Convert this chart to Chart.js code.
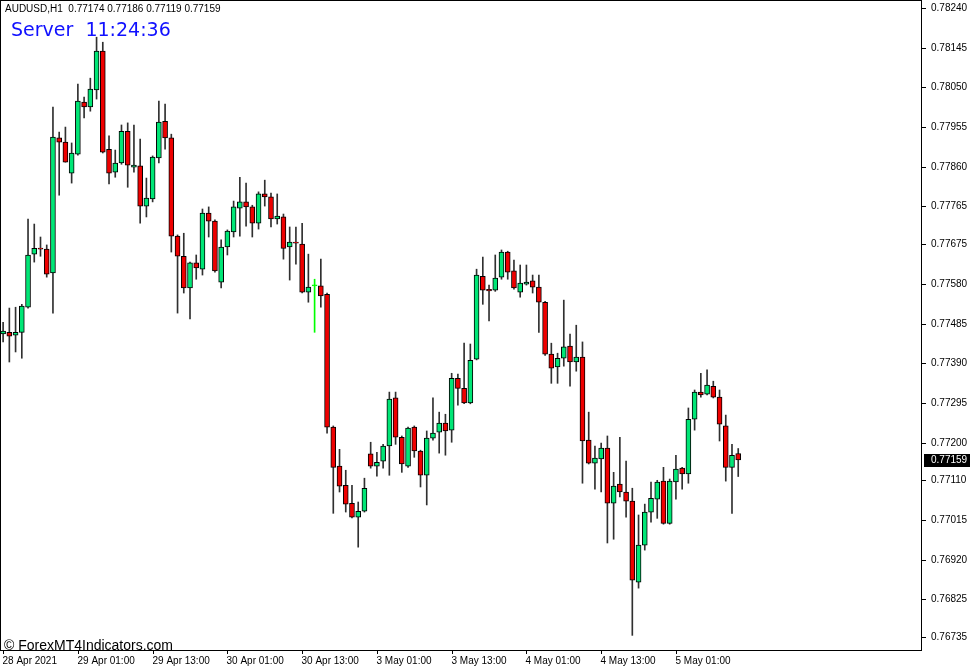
<!DOCTYPE html>
<html><head><meta charset="utf-8">
<script src="https://cdn.jsdelivr.net/npm/chart.js@4.4.0/dist/chart.umd.min.js"></script>
<style>html,body{margin:0;padding:0;background:#fff;overflow:hidden}canvas{display:block}</style>
</head><body>
<canvas id="c" width="977" height="672"></canvas>
<script>
const opens  = [77460,77464,77457,77464,77524,77651,77665,77663,77606,77929,77919,77845,77890,78015,78003,78044,78137,77902,77847,77869,77945,77859,77862,77766,77783,77881,77969,77929,77694,77646,77570,77630,77615,77749,77730,77584,77668,77704,77761,77776,77764,77725,77795,77788,77735,77740,77668,77680,77675,77560,77575,77575,77555,77237,77144,77098,77055,77022,77036,77173,77144,77156,77192,77307,77213,77144,77237,77180,77122,77211,77225,77247,77230,77354,77330,77295,77400,77598,77567,77565,77596,77656,77611,77560,77579,77587,77572,77536,77412,77381,77402,77431,77393,77405,77206,77151,77161,77187,77055,77101,77082,77060,76866,76955,77034,77065,77108,77007,77106,77139,77125,77256,77321,77316,77335,77309,77240,77141,77174];
const highs  = [77488,77522,77524,77531,77735,77723,77692,77673,78003,77943,77955,77917,78058,78027,78072,78170,78158,77934,77900,77960,77965,77960,77926,77833,77886,78017,78010,77938,77697,77701,77632,77649,77759,77764,77733,77685,77709,77778,77835,77821,77768,77800,77828,77797,77795,77747,77716,77716,77725,77651,77591,77639,77558,77240,77184,77134,77098,77058,77115,77201,77177,77196,77321,77321,77216,77237,77240,77182,77228,77307,77273,77268,77366,77364,77438,77436,77615,77644,77577,77649,77661,77658,77637,77625,77625,77601,77601,77538,77438,77414,77541,77460,77481,77441,77273,77192,77199,77216,77129,77213,77156,77091,77027,77053,77106,77110,77141,77113,77170,77141,77283,77326,77366,77374,77347,77326,77266,77196,77186];
const lows   = [77441,77393,77417,77402,77522,77632,77646,77596,77510,77792,77871,77821,77888,77977,77993,78022,77893,77819,77835,77866,77811,77847,77725,77740,77776,77869,77902,77656,77510,77558,77496,77591,77601,77692,77608,77570,77649,77692,77694,77718,77692,77711,77766,77716,77723,77639,77589,77627,77558,77536,77464,77524,77223,77031,77082,77034,77020,76950,77034,77139,77120,77139,77122,77196,77129,77141,77165,77094,77051,77206,77175,77170,77201,77290,77293,77293,77398,77531,77491,77562,77591,77591,77567,77548,77577,77558,77464,77409,77342,77342,77383,77335,77371,77103,77149,77089,77082,76960,76969,77070,77022,76739,76852,76943,77010,77019,77005,77005,77065,77089,77103,77230,77309,77314,77307,77204,77108,77031,77119];
const closes = [77467,77455,77464,77527,77649,77665,77663,77603,77931,77919,77871,77893,78017,78003,78046,78137,77895,77845,77869,77945,77864,77864,77766,77785,77883,77967,77929,77694,77646,77570,77630,77618,77749,77730,77611,77668,77706,77764,77776,77764,77725,77795,77788,77735,77742,77665,77680,77677,77560,77572,77575,77551,77237,77141,77096,77053,77022,77036,77091,77144,77153,77192,77304,77213,77149,77235,77180,77122,77211,77223,77247,77228,77354,77330,77295,77397,77601,77565,77563,77594,77656,77608,77570,77582,77584,77572,77536,77412,77378,77402,77429,77393,77405,77204,77151,77163,77187,77055,77096,77082,77060,76871,76955,77034,77067,77106,77007,77108,77137,77125,77256,77321,77314,77338,77309,77244,77141,77170,77159];
const priceTicks = [0.78240,0.78145,0.78050,0.77955,0.77860,0.77765,0.77675,0.77580,0.77485,0.77390,0.77295,0.77200,0.77110,0.77015,0.76920,0.76825,0.76735];
const timeLabels = {0:"28 Apr 2021",12:"29 Apr 01:00",24:"29 Apr 13:00",36:"30 Apr 01:00",48:"30 Apr 13:00",60:"3 May 01:00",72:"3 May 13:00",84:"4 May 01:00",96:"4 May 13:00",108:"5 May 01:00"};
const SLOTS = 148;

const P = v => v/100000;
const labels = Array.from({length:SLOTS},(_,i)=>String(i));
const wicks = lows.map((l,i)=>[P(l),P(highs[i])]);
const bodies = opens.map((o,i)=>[P(Math.min(o,closes[i])),P(Math.max(o,closes[i]))]);
const bodyColor = opens.map((o,i)=> closes[i]>o ? '#00e676' : (closes[i]<o ? '#ee0000' : '#00ff00'));
const bodyBorder = opens.map((o,i)=> closes[i]===o ? '#00ff00' : '#000000');
const wickColor = opens.map((o,i)=> closes[i]===o ? '#00ff00' : '#303030');
const last = closes[closes.length-1];

const deco = {
  id:'deco',
  afterDraw(chart){
    const ctx=chart.ctx, a=chart.chartArea, y=chart.scales.y, x=chart.scales.x;
    ctx.save();
    ctx.strokeStyle='#000'; ctx.lineWidth=1;
    ctx.strokeRect(a.left+0.5,a.top+0.5,a.right-a.left-1,a.bottom-a.top);
    ctx.font='10px "Liberation Sans"'; ctx.fillStyle='#000'; ctx.textBaseline='middle'; ctx.textAlign='left';
    priceTicks.forEach(t=>{
      const py=Math.round(y.getPixelForValue(t))+0.5;
      ctx.beginPath(); ctx.moveTo(a.right,py); ctx.lineTo(a.right+4,py); ctx.stroke();
      ctx.fillText(t.toFixed(5),a.right+9,py);
    });
    const cy=Math.round(y.getPixelForValue(P(last)));
    ctx.fillStyle='#000'; ctx.fillRect(a.right+2,cy-6,46,13);
    ctx.fillStyle='#fff'; ctx.fillText(P(last).toFixed(5),a.right+9,cy+0.5);
    ctx.fillStyle='#000'; ctx.textBaseline='top';
    Object.keys(timeLabels).forEach(k=>{
      const px=Math.round(x.getPixelForValue(+k))+0.5;
      ctx.beginPath(); ctx.moveTo(px,a.bottom); ctx.lineTo(px,a.bottom+4); ctx.stroke();
      ctx.fillText(timeLabels[k],px-1,a.bottom+6);
    });
    ctx.textBaseline='alphabetic';
    ctx.font='10px "Liberation Sans"';
    ctx.fillText('AUDUSD,H1  0.77174 0.77186 0.77119 0.77159',5,12);
    ctx.fillStyle='#1010ff'; ctx.font='19px "DejaVu Sans"';
    ctx.fillText('Server  11:24:36',11,36);
    ctx.fillStyle='#000'; ctx.font='14px "Liberation Sans"';
    ctx.fillText('© ForexMT4Indicators.com',4,650);
    ctx.restore();
  }
};

new Chart(document.getElementById('c'),{
  type:'bar',
  data:{labels,datasets:[
    {data:bodies,backgroundColor:bodyColor,borderColor:bodyBorder,borderWidth:1,borderSkipped:false,barThickness:5,minBarLength:1,grouped:false,order:0},
    {data:wicks,backgroundColor:wickColor,borderWidth:0,barThickness:1,grouped:false,order:1}
  ]},
  options:{
    responsive:false,animation:false,devicePixelRatio:1,
    layout:{padding:{left:0,top:0,right:55,bottom:22}},
    plugins:{legend:{display:false},tooltip:{enabled:false}},
    scales:{
      x:{type:'category',display:false,offset:true},
      y:{type:'linear',display:false,min:0.76704,max:0.78259}
    }
  },
  plugins:[deco]
});
</script>
</body></html>
